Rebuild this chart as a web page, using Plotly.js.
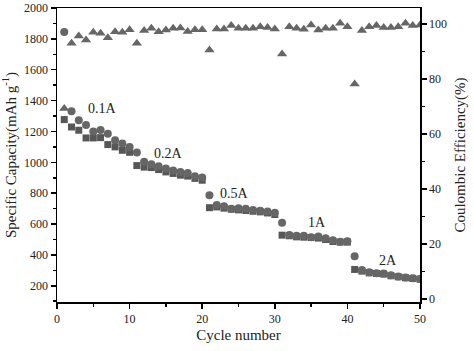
<!DOCTYPE html>
<html><head><meta charset="utf-8">
<script src="https://cdn.plot.ly/plotly-3.0.1.min.js"></script>
<style>html,body{margin:0;padding:0;background:#fff}#c{width:474px;height:351px}</style>
</head><body><div id="c"></div>
<script>
const cycles = [1,2,3,4,5,6,7,8,9,10,11,12,13,14,15,16,17,18,19,20,21,22,23,24,25,26,27,28,29,30,31,32,33,34,35,36,37,38,39,40,41,42,43,44,45,46,47,48,49,50];
const chargeCap = [1277,1229,1208,1158,1158,1160,1115,1100,1078,1065, 979,969,966,953,938,928,917,911,896,884, 706,711,703,696,692,688,683,679,672,662, 528,524,517,515,513,509,500,487,483,483, 306,295,284,280,276,265,258,252,248,243];
const dischargeCap = [1844,1331,1272,1242,1199,1210,1186,1143,1122,1100, 1063,1003,988,975,960,947,938,931,910,902, 787,724,716,700,703,699,691,686,681,674, 608,529,525,525,515,520,508,495,485,488, 392,302,287,282,280,268,261,253,249,244];
const coulombicEff = [69.3,93.0,95.6,94.2,97.0,96.6,95.0,97.2,97.0,97.9, 93.0,97.6,98.4,97.2,97.8,98.4,98.5,97.3,97.9,97.9, 90.5,98.2,98.2,99.4,98.4,98.4,98.4,99.0,98.7,98.2, 89.1,99.0,98.4,98.1,99.6,97.8,98.4,98.4,100.3,99.0, 78.2,97.6,99.0,99.4,98.7,98.7,99.0,100.3,99.4,99.6];
const rateLabels = ["0.1A","0.2A","0.5A","1A","2A"];
const rateLabelX = [6.2,15.3,24.5,35.8,45.6];
const rateLabelY = [1348,1057,798,608,366];

const font = {family:"Liberation Serif, Times New Roman, serif", color:"#222", size:12};
const traces = [
  {x:cycles, y:chargeCap, type:"scatter", mode:"markers", marker:{symbol:"square", size:7, color:"#575757"}, yaxis:"y"},
  {x:cycles, y:dischargeCap, type:"scatter", mode:"markers", marker:{symbol:"circle", size:8, color:"#666666"}, yaxis:"y"},
  {x:cycles, y:coulombicEff, type:"scatter", mode:"markers", marker:{symbol:"triangle-up", size:9, color:"#666666"}, yaxis:"y2"}
];
const annotations = rateLabels.map((t,i)=>({x:rateLabelX[i], y:rateLabelY[i], xref:"x", yref:"y", text:t, showarrow:false, font:{family:font.family, size:14, color:"#222"}}));
const axBase = {showgrid:false, zeroline:false, showline:true, linecolor:"#000", linewidth:1.5, ticks:"outside", ticklen:5, tickwidth:1.5, tickcolor:"#000", tickfont:font};
const layout = {
  width:474, height:351, margin:{l:57, r:54, t:8, b:49},
  paper_bgcolor:"#fff", plot_bgcolor:"#fff", showlegend:false, font:font,
  xaxis: Object.assign({}, axBase, {range:[0,50], dtick:10, tick0:0, mirror:true,
    minor:{dtick:5, ticks:"outside", ticklen:3, tickwidth:1.5, tickcolor:"#000"},
    title:{text:"Cycle number", font:{family:font.family, size:15, color:"#222"}, standoff:4}}),
  yaxis: Object.assign({}, axBase, {range:[95,2000], dtick:200, tick0:0,
    minor:{dtick:100, ticks:"outside", ticklen:3, tickwidth:1.5, tickcolor:"#000"},
    title:{text:"Specific Capacity(mAh g<sup>-1</sup>)", font:{family:font.family, size:15, color:"#222"}, standoff:4}}),
  yaxis2: Object.assign({}, axBase, {overlaying:"y", side:"right", range:[-1.1,105.8], dtick:20, tick0:0,
    minor:{dtick:10, ticks:"outside", ticklen:3, tickwidth:1.5, tickcolor:"#000"},
    title:{text:"Coulombic Efficiency(%)", font:{family:font.family, size:15, color:"#222"}, standoff:8}}),
  annotations: annotations
};
Plotly.newPlot("c", traces, layout, {displayModeBar:false, staticPlot:true});
</script></body></html>
